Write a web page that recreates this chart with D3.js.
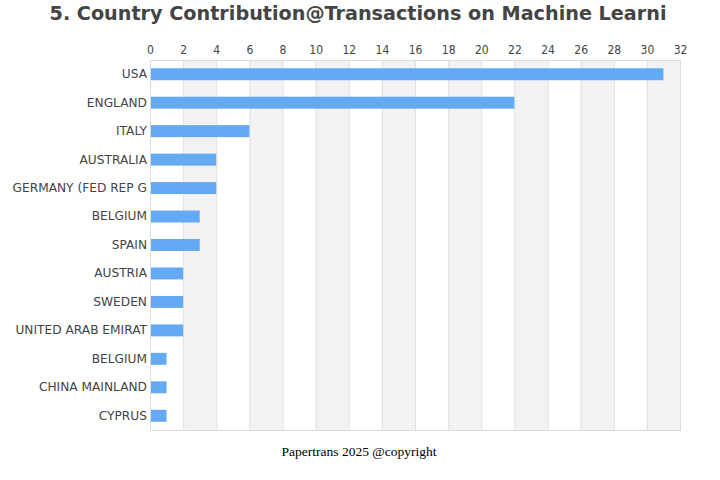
<!DOCTYPE html>
<html>
<head>
<meta charset="utf-8">
<script src="https://cdn.jsdelivr.net/npm/d3@7"></script>
<style>
  body { margin: 0; background: #fff; }
  svg { display: block; }
</style>
</head>
<body>
<div id="chart"></div>
<script>
// data
var countries = ["USA", "ENGLAND", "ITALY", "AUSTRALIA", "GERMANY (FED REP G", "BELGIUM", "SPAIN",
                 "AUSTRIA", "SWEDEN", "UNITED ARAB EMIRAT", "BELGIUM", "CHINA MAINLAND", "CYPRUS"]
var counts = [31, 22, 6, 4, 4, 3, 3, 2, 2, 2, 1, 1, 1]
var xTicks = d3.range(0, 33, 2)

var width = 720
var height = 480
var margin = { top: 60, right: 40, bottom: 50, left: 150 }
var innerWidth = width - margin.left - margin.right
var innerHeight = height - margin.top - margin.bottom

var svg = d3.select('#chart')
            .append('svg')
            .attr('width', width)
            .attr('height', height)

// title
svg.append('text')
    .attr('x', 358)
    .attr('y', 20)
    .attr('text-anchor', 'middle')
    .style('font-family', 'DejaVu Sans, Verdana, sans-serif')
    .style('font-weight', 'bold')
    .style('font-size', '19.2px')
    .style('fill', '#444')
    .text('5. Country Contribution@Transactions on Machine Learni')

var g = svg.append('g')
            .attr('transform', 'translate(' + margin.left + ',' + margin.top + ')')

var xScale = d3.scaleLinear()
                .domain([0, 32])
                .range([0, innerWidth])

// use index as key since BELGIUM shows up twice
var yScale = d3.scaleBand()
                .domain(d3.range(countries.length))
                .range([0, innerHeight])
                .paddingInner(0.58)
                .paddingOuter(0.29)

// alternating bands
g.selectAll('.band')
    .data(xTicks.slice(0, -1).filter((d, i) => i % 2 == 1))
    .enter()
    .append('rect')
        .attr('class', 'band')
        .attr('x', d => xScale(d))
        .attr('y', 0)
        .attr('width', d => xScale(d + 2) - xScale(d))
        .attr('height', innerHeight)
        .attr('fill', '#f2f2f2')

// grid lines
g.selectAll('.grid')
    .data(xTicks)
    .enter()
    .append('line')
        .attr('class', 'grid')
        .attr('x1', d => xScale(d) + 0.5)
        .attr('x2', d => xScale(d) + 0.5)
        .attr('y1', 0)
        .attr('y2', innerHeight)
        .attr('stroke', '#e0e0e0')

// frame
g.append('rect')
    .attr('x', 0.5)
    .attr('y', 0.5)
    .attr('width', innerWidth)
    .attr('height', innerHeight)
    .attr('fill', 'none')
    .attr('stroke', '#dcdcdc')

// top axis
var xAxis = d3.axisTop(xScale)
                .tickValues(xTicks)
                .tickSize(0)
                .tickPadding(6)
var axisG = g.append('g').call(xAxis)
axisG.select('.domain').remove()
axisG.selectAll('text')
    .style('font-family', 'DejaVu Sans Condensed, DejaVu Sans, sans-serif')
    .style('font-size', '12px')
    .style('fill', '#444')

// category labels
var yAxis = d3.axisLeft(yScale)
                .tickFormat(i => countries[i])
                .tickSize(0)
                .tickPadding(3)
var yG = g.append('g').call(yAxis)
yG.select('.domain').remove()
yG.selectAll('text')
    .style('font-family', 'DejaVu Sans, Verdana, sans-serif')
    .style('font-size', '12.2px')
    .style('fill', '#444')

// bars
g.selectAll('.bar')
    .data(counts)
    .enter()
    .append('rect')
        .attr('class', 'bar')
        .attr('x', 1)
        .attr('y', (d, i) => yScale(i))
        .attr('width', d => xScale(d) - 1)
        .attr('height', yScale.bandwidth())
        .attr('fill', '#63a9f4')

// footer
svg.append('text')
    .attr('x', 359)
    .attr('y', 456)
    .attr('text-anchor', 'middle')
    .style('font-family', 'Liberation Serif, Times New Roman, serif')
    .style('font-size', '13.5px')
    .style('fill', '#000')
    .text('Papertrans 2025 @copyright')
</script>
</body>
</html>
